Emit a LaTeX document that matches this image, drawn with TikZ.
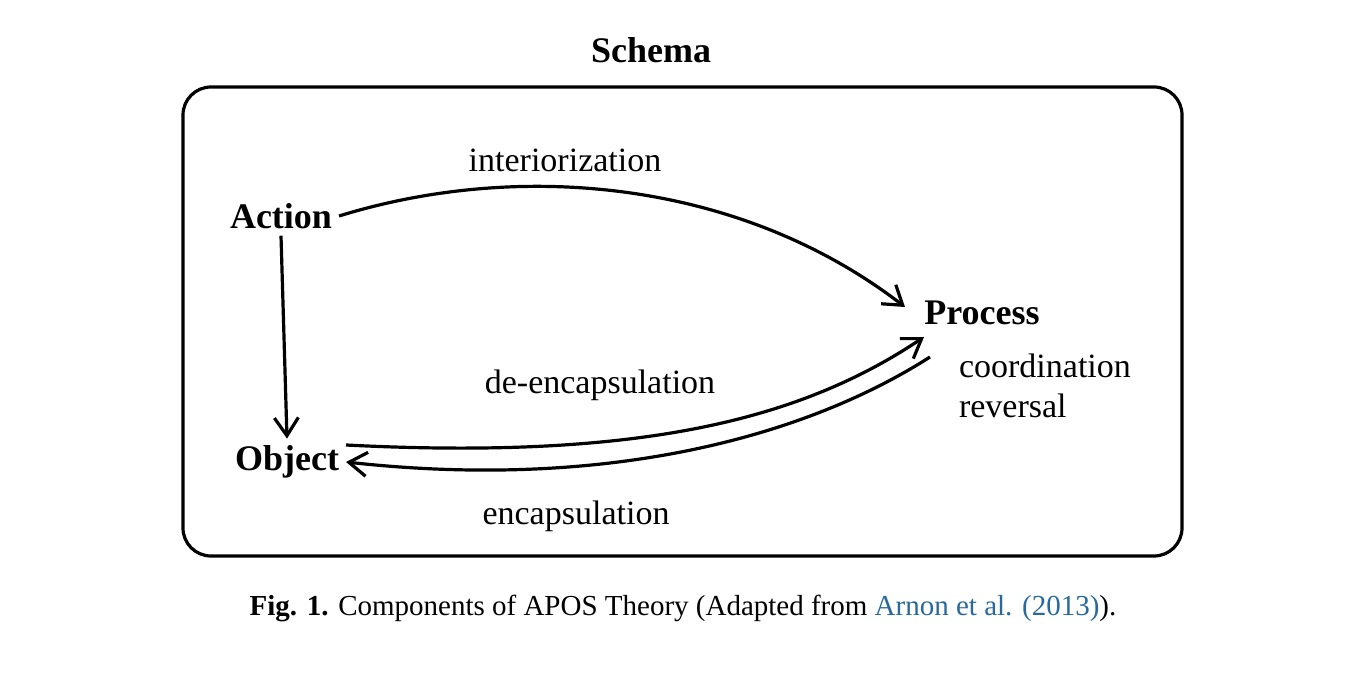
\documentclass[tikz,border=0pt]{standalone}
\usepackage{fontspec}
\setmainfont{Liberation Serif}
\usetikzlibrary{arrows.meta}
\definecolor{citeblue}{RGB}{40,105,155}
\begin{document}
\begin{tikzpicture}[x=0.5pt,y=-0.5pt,
	stage/.style={font=\fontsize{18}{20}\selectfont\bfseries},
	lbl/.style={font=\fontsize{17}{20}\selectfont},
	flow/.style={line width=1.6pt,-{Straight Barb[length=9pt,width=12pt,line width=1.6pt]}}]
	\useasboundingbox (0,0) rectangle (1354,678);
	% outer frame
	\draw[line width=1.6pt,rounded corners=14pt] (183,87) rectangle (1182,556);
	\node[stage] (schema) at (651,50) {Schema};
	
	% stages
	\node[stage] (action) at (281,216) {Action};
	\node[stage] (object) at (287,462) {Object};
	\node[stage] (process) at (982,313) {Process};
	\coordinate (pin) at (905,307);
	\coordinate (pout) at (930,357);
	\coordinate (pde) at (924,337);
	
	\draw[flow] (action.east) .. controls (520,160) and (740,180) .. (pin);
	\draw[flow] (action.south) -- (object.north);
	\draw[flow] (object.east) ++(0,-17) .. controls (640,460) and (800,420) .. (pde);
	\draw[flow] (pout) .. controls (800,440) and (600,490) .. (object.east);
	
	% labels
	\node[lbl] (interio) at (565,160) {interiorization};
	\node[lbl] (deenc) at (600,385) {de-encapsulation};
	\node[lbl] (enc) at (576,516) {encapsulation};
	\node[lbl,anchor=west,align=left] (coord) at (952,386) {coordination\\reversal};
	
	% caption
	\node[font=\fontsize{14.5}{16}\selectfont] (caption) at (683,608)
	{\textbf{Fig. 1.} Components of APOS Theory (Adapted from \textcolor{citeblue}{Arnon et al. (2013)}).};
\end{tikzpicture}
\end{document}
